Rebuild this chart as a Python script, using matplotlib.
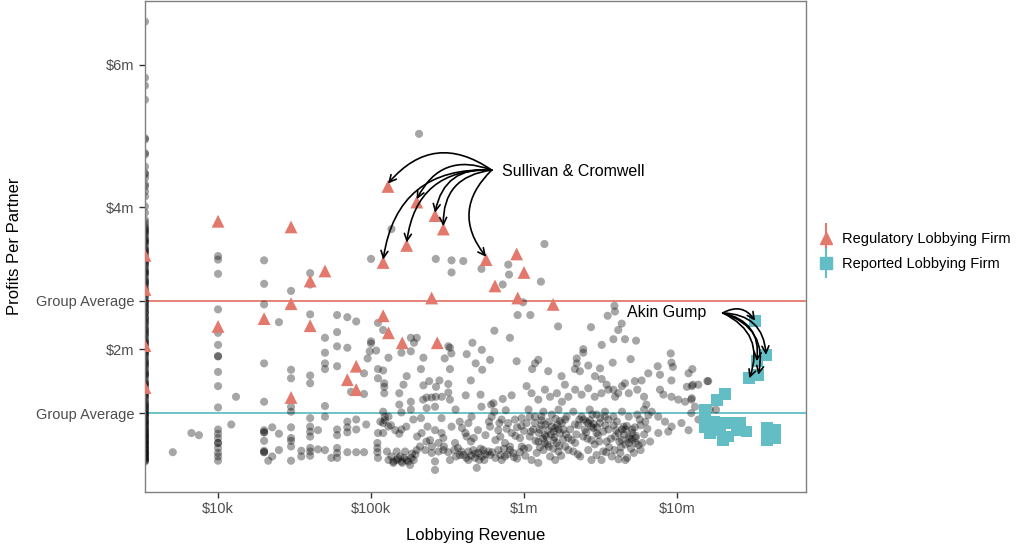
import numpy as np
import matplotlib.pyplot as plt
from matplotlib.lines import Line2D
from matplotlib.ticker import NullLocator

plt.rcParams['font.family'] = ['Liberation Sans', 'DejaVu Sans']

# revenue in $k (0 = no lobbying revenue), profits per partner in $m

# firms with zero lobbying revenue (drawn on the left edge)
zero_rev_ppp = [6.61, 5.82, 5.71, 5.51, 4.97, 4.95, 4.76, 4.74, 4.57, 4.48, 4.46, 4.41,
                4.32, 4.29, 4.22, 4.15, 4.01, 3.92, 3.82, 3.78, 3.74, 3.71, 3.67, 3.63,
                3.60, 3.56, 3.52, 3.49, 3.45, 3.41, 3.38, 3.34, 3.30, 3.27, 3.23, 3.19,
                3.16, 3.12, 3.08, 3.05, 3.01, 2.97, 2.94, 2.90, 2.86, 2.83, 2.79, 2.75,
                2.72, 2.68, 2.64, 2.61, 2.57, 2.53, 2.50, 2.46, 2.42, 2.39, 2.35, 2.31,
                2.28, 2.24, 2.20, 2.17, 2.13, 2.09, 2.06, 2.02, 1.98, 1.95, 1.91, 1.87,
                1.84, 1.80, 1.76, 1.73, 1.69, 1.65, 1.62, 1.58, 1.54, 1.51, 1.47, 1.43,
                1.40, 1.36, 1.32, 1.29, 1.25, 1.21, 1.18, 1.14, 1.10, 1.07, 1.03, 0.99,
                0.96, 0.92, 0.88, 0.85, 0.81, 0.77, 0.74, 0.70, 0.66, 0.63, 0.59, 0.55,
                0.52, 0.48, 0.44, 0.42, 0.50, 0.57, 0.65, 0.72, 0.80, 0.90, 1.00, 1.12,
                3.69, 3.54, 3.40, 3.25, 3.10, 2.96, 2.81, 2.66, 2.52, 2.37, 2.22, 2.08,
                1.93, 1.78, 1.64, 1.49, 1.34, 1.20, 1.05, 0.94, 0.83, 0.75, 0.68, 0.61,
                0.54, 0.46, 0.43, 0.47, 0.53, 0.60, 0.69, 0.78, 0.86, 0.97, 1.08, 1.16,
                1.24, 1.38, 1.52, 1.67, 1.82, 1.97, 2.12, 2.27, 2.44, 2.59, 2.77, 2.92,
                3.07, 3.21, 3.36, 3.51, 3.65]

gray_low = [(10, 3.31), (10, 3.26), (10, 3.06), (10, 2.56), (10, 2.23), (10, 2.06), (10, 1.90),
            (10, 1.90), (10, 1.68), (10, 1.48), (10, 1.18), (10, 0.87), (10, 0.81), (10, 0.75),
            (10, 0.68), (10, 0.68), (10, 0.61), (10, 0.54), (10, 0.49), (10, 0.43),
            (5.06, 0.55), (6.7, 0.82), (7.5, 0.79), (12.2, 0.94), (13.1, 1.33),
            (20, 3.25), (20, 2.92), (20, 2.63), (20, 1.80), (20, 1.26), (20, 0.86), (20, 0.83),
            (20, 0.83), (20, 0.71), (20, 0.57), (20, 0.55), (20, 0.55),
            (25, 2.38), (22.6, 0.90), (25, 0.81), (25, 0.58), (21.3, 0.43), (22.6, 0.49),
            (30, 2.82), (30, 1.71), (30, 1.59), (30, 1.19), (30, 1.12), (30, 0.90), (30, 0.75),
            (30, 0.71), (30, 0.63), (30, 0.43),
            (40, 3.07), (40, 2.91), (40, 2.49), (40, 1.63), (40, 1.52), (40, 1.03), (40, 0.91),
            (40, 0.84), (40, 0.77), (40, 0.61), (40, 0.56), (40, 0.50),
            (45, 0.86), (35, 0.57), (35, 0.49), (45, 0.59),
            (50, 2.16), (50, 1.95), (50, 1.80), (50, 1.72), (50, 1.20), (50, 1.05), (50, 0.58), (55, 0.47)]

gray_mid = [(100, 3.27), (265, 3.27), (336, 3.25), (401, 3.24), (336, 3.08), (527, 3.13), (789, 3.19),
            (798, 3.05), (726, 2.91), (986, 2.66), (908, 2.48), (640, 2.26), (809, 2.16), (895, 1.83),
            (60, 2.48), (70, 2.45), (80, 2.39), (60, 2.24), (60, 2.04), (70, 2.02), (60, 1.76),
            (90, 1.66), (74, 1.40), (90, 1.37),
            (111, 2.37), (120, 2.27), (100, 2.11), (100, 2.08), (98, 1.97), (108, 1.98), (95, 1.87),
            (130, 1.88), (111, 1.72), (120, 1.70), (111, 1.59), (122, 1.52), (122, 1.47), (122, 1.38),
            (153, 1.38), (158, 1.95), (182, 2.16), (199, 2.16), (191, 2.09), (182, 1.97), (171, 1.62),
            (163, 1.50), (212, 1.72), (220, 1.88), (182, 1.26), (220, 1.49), (240, 1.55), (266, 1.47),
            (280, 1.56), (328, 2.02), (320, 2.04), (335, 1.94), (460, 2.09), (530, 1.99), (303, 1.87),
            (422, 1.93), (328, 1.72), (483, 1.80), (600, 1.85), (533, 1.71), (320, 1.51), (320, 1.39),
            (231, 1.32), (249, 1.32), (265, 1.33), (290, 1.33), (219, 1.29), (328, 1.29), (416, 1.35),
            (449, 1.56), (520, 1.36), (631, 1.24), (726, 1.30), (830, 1.35), (527, 1.19), (610, 1.22),
            (357, 1.15), (153, 1.22), (158, 1.11), (182, 1.15), (231, 1.17), (262, 1.19), (120, 1.12),
            (123, 1.05), (123, 1.00), (130, 1.05), (189, 1.01), (289, 1.03),
            (60, 0.87), (60, 0.79), (70, 0.98), (70, 0.90), (70, 0.83), (80, 1.01), (80, 0.87),
            (93, 0.94), (60, 0.61), (60, 0.54), (60, 0.47), (70, 0.55), (80, 0.55), (90, 0.55),
            (110, 0.68), (110, 0.61), (110, 0.55), (111, 0.47), (111, 0.82), (120, 0.82), (144, 0.86),
            (153, 0.81), (158, 0.87), (120, 0.96), (130, 0.91),
            (127, 0.56), (136, 0.49), (147, 0.44), (158, 0.42), (171, 0.44), (184, 0.47), (199, 0.58),
            (209, 0.63), (147, 0.56), (167, 0.56), (180, 0.37), (130, 0.44), (140, 0.42), (155, 0.49),
            (262, 0.42), (262, 0.30), (226, 0.58), (249, 0.54), (276, 0.56), (297, 0.58), (320, 0.55),
            (328, 0.44), (276, 0.68), (297, 0.75), (243, 0.72), (214, 0.82),
            (212, 1.03), (234, 0.91), (262, 0.86), (289, 0.82), (336, 0.91), (393, 0.89), (433, 0.96),
            (454, 1.05), (500, 0.86), (354, 0.68), (414, 0.82), (380, 0.98), (422, 0.77),
            (401, 0.51), (433, 0.56), (466, 0.58), (503, 0.54), (542, 0.58), (433, 0.44), (479, 0.47),
            (530, 0.49), (585, 0.56), (491, 0.33),
            (615, 1.05), (714, 1.01), (789, 0.96), (873, 1.01), (966, 1.03), (831, 0.82), (942, 0.75),
            (679, 0.86), (751, 0.68), (809, 0.58), (714, 0.44), (809, 0.63), (966, 0.63),
            (115, 0.98), (135, 0.93), (170, 0.91), (200, 0.77), (230, 0.70), (250, 0.63), (300, 0.63),
            (350, 0.58), (370, 0.61), (390, 0.56), (360, 0.49), (380, 0.51), (550, 0.44), (600, 0.51),
            (650, 0.47), (700, 0.51), (750, 0.49), (850, 0.54), (900, 0.46), (650, 0.72), (700, 0.77),
            (560, 0.79), (450, 0.70), (470, 0.75), (600, 0.91), (900, 0.90),
            (136, 3.69), (206, 5.03)]

gray_high = [(1360, 3.48), (1290, 2.95), (1100, 2.48), (1670, 2.32), (2740, 2.31), (3520, 2.47),
             (3930, 2.53), (3900, 2.61), (4350, 2.36), (4130, 2.27), (3840, 2.14), (4570, 2.14),
             (5400, 2.12), (3220, 2.06), (2440, 2.00), (2440, 1.95), (2210, 1.87), (2210, 1.80),
             (3800, 1.81), (4980, 1.86), (1240, 1.85), (1180, 1.80), (1130, 1.72), (1440, 1.69),
             (1760, 1.62), (1850, 1.50), (2150, 1.72), (2320, 1.69), (2630, 1.77), (3140, 1.73),
             (2910, 1.62), (3220, 1.58), (3470, 1.50), (4570, 1.52), (5300, 1.55), (5870, 1.56),
             (3840, 1.43), (4130, 1.38), (6490, 1.66), (7480, 1.76), (7740, 1.64), (9100, 1.94),
             (9200, 1.81), (9400, 1.75), (9200, 1.56), (11900, 1.66), (12500, 1.48), (11600, 1.47),
             (13800, 1.50), (15800, 1.55), (7740, 1.43), (8150, 1.36), (9200, 1.33), (10200, 1.29),
             (11300, 1.26), (12500, 1.31), (6840, 1.12), (7550, 1.05), (8350, 0.98), (9220, 0.91),
             (10700, 0.96), (11900, 0.86), (13800, 1.01), (15600, 1.08), (13100, 1.19), (6670, 0.70),
             (7550, 0.82), (8770, 0.84), (12600, 1.72), (12700, 1.50), (16000, 1.55), (12400, 1.29),
             (14700, 1.15), (16400, 1.15), (18000, 1.15), (12400, 1.10)]

gray_dense = [(1040, 1.48), (1120, 1.38), (1240, 1.29), (1370, 1.43), (1480, 1.33), (1640, 1.38),
              (1770, 1.26), (1950, 1.33), (2160, 1.43), (2380, 1.36), (2630, 1.45), (2900, 1.33),
              (3210, 1.38), (3560, 1.43), (3940, 1.33), (4370, 1.48), (4840, 1.38), (5500, 1.43),
              (6090, 1.33),
              (1070, 1.15), (1180, 1.05), (1340, 1.12), (1520, 1.08), (1680, 1.15), (1900, 1.05),
              (2100, 1.12), (2380, 1.05), (2690, 1.15), (2980, 1.08), (3380, 1.12), (3840, 1.05),
              (4370, 1.12), (4840, 1.05), (5500, 1.08), (6090, 1.15),
              (1040, 0.96), (1150, 0.87), (1300, 0.93), (1450, 0.98), (1600, 0.89), (1770, 0.96),
              (2000, 0.87), (2270, 0.93), (2560, 0.98), (2830, 0.89), (3130, 0.96), (3560, 0.87),
              (4050, 0.98), (4480, 0.91), (5090, 0.87), (5780, 0.93),
              (1090, 0.77), (1240, 0.70), (1370, 0.79), (1560, 0.72), (1720, 0.82), (1950, 0.75),
              (2160, 0.68), (2440, 0.77), (2760, 0.72), (3050, 0.79), (3470, 0.70), (3940, 0.77),
              (4370, 0.72), (4840, 0.68), (5360, 0.75), (5930, 0.68),
              (1070, 0.61), (1210, 0.54), (1340, 0.58), (1480, 0.49), (1680, 0.56), (1860, 0.63),
              (2100, 0.56), (2330, 0.49), (2630, 0.58), (2980, 0.51), (3290, 0.56), (3750, 0.49),
              (4260, 0.54), (4720, 0.47), (5220, 0.54), (5780, 0.58),
              (1120, 0.44), (1240, 0.40), (1600, 0.44), (2760, 0.44), (3210, 0.44), (4150, 0.45),
              (4600, 0.44),
              (1520, 0.91), (1560, 0.84), (1680, 0.87), (2630, 0.96), (2760, 0.91), (4600, 0.87),
              (4840, 0.77), (5090, 0.72), (1370, 0.68), (1450, 0.63),
              (1180, 0.96), (1270, 0.87), (1400, 0.77), (1640, 0.68), (1810, 0.87), (1090, 1.05),
              (1300, 1.05), (1860, 1.01), (3380, 1.05), (4150, 0.82), (4370, 0.87), (5360, 0.68),
              (3560, 1.01), (2500, 0.87), (2980, 0.82)]

# darkest clusters of the cloud
gray_core = [(1300, 1.00), (1380, 0.94), (1430, 0.86), (1500, 0.80), (1580, 0.76), (1650, 0.93),
             (1720, 0.99), (1800, 0.73), (1880, 0.80), (1250, 0.82), (1330, 0.74), (1420, 0.66),
             (1550, 0.60), (1700, 0.64), (1270, 0.62), (1190, 0.71), (1110, 0.84), (1610, 1.02),
             (2550, 0.83), (2700, 1.00), (2850, 0.95), (3000, 0.90), (3150, 1.03), (3300, 0.84),
             (2600, 0.74), (2900, 0.66), (3100, 0.70), (3400, 0.93), (2450, 1.01), (2800, 1.08),
             (4000, 0.86), (4200, 0.70), (4500, 0.80), (4700, 0.92), (4900, 0.74), (5100, 0.82),
             (5400, 0.78), (5600, 0.65), (4300, 0.62), (4600, 0.66), (5000, 0.60), (5300, 0.90),
             (3700, 0.74), (3600, 0.62), (3850, 0.93), (2200, 0.80), (2050, 0.72), (2300, 1.01),
             (2150, 0.94), (1950, 0.58), (2250, 0.52), (1750, 0.50), (3450, 0.55), (3900, 0.58),
             (5700, 1.01), (6200, 0.98), (6400, 0.88), (6100, 0.80), (6500, 1.07), (6300, 1.22),
             (140, 0.40), (150, 0.46), (160, 0.40), (175, 0.42), (190, 0.44), (165, 0.47),
             (195, 0.52), (185, 0.53), (420, 0.47), (450, 0.50), (480, 0.53), (510, 0.44),
             (560, 0.52), (520, 0.60), (620, 0.55), (680, 0.58), (740, 0.60), (780, 0.52),
             (860, 0.48), (940, 0.55), (1000, 0.60), (1020, 0.50), (960, 0.92), (1000, 0.85),
             (880, 0.78), (770, 0.88), (690, 0.96), (590, 0.98), (640, 1.12), (760, 1.14)]

regulatory = [(0, 3.32), (0, 2.84), (0, 2.05), (0, 1.46),
              (10, 3.80), (10, 2.32), (20, 2.43), (30, 3.72), (30, 2.64), (30, 1.32), (40, 2.96),
              (40, 2.33), (50, 3.10), (895, 3.34), (1000, 3.08), (646, 2.89), (249, 2.72),
              (910, 2.72), (120, 2.47), (130, 2.23), (160, 2.09), (271, 2.09), (80, 1.76),
              (70, 1.57), (80, 1.43), (1550, 2.63)]
sullivan = [(129, 4.29), (199, 4.07), (262, 3.88), (297, 3.69), (171, 3.46), (120, 3.22), (565, 3.26)]

reported = [(20600, 1.37), (18200, 1.29), (15200, 1.03), (15200, 0.91), (16400, 0.96), (16400, 0.82),
            (19100, 0.86), (20100, 0.72), (19600, 0.96), (23300, 0.96), (24500, 0.86), (25800, 0.96),
            (28500, 0.84), (38600, 0.89), (43700, 0.86), (38600, 0.72), (43700, 0.75), (15200, 1.15),
            (17400, 0.98), (21600, 0.77)]
akin_gump = [(32400, 2.40), (38200, 1.92), (33200, 1.83), (29700, 1.59), (34000, 1.64)]

reg_avg = 2.68
rep_avg = 1.10

red = '#E3786D'
teal = '#62BEC4'
x_left, x_right = 3.33e3, 6.97e7


def xs(pts):
    r = np.array([p[0] for p in pts], dtype=float) * 1e3
    return np.where(r == 0, x_left, r)


def ys(pts):
    return np.array([p[1] for p in pts])


fig = plt.figure(figsize=(10.24, 5.48), dpi=100)
ax = fig.add_axes([0.1416, 0.1022, 0.6455, 0.896])
ax.set_xscale('log')
ax.set_xlim(x_left, x_right)
ax.set_ylim(-0.01, 6.9)

ax.axhline(reg_avg, color=red, lw=1.3, zorder=1)
ax.axhline(rep_avg, color=teal, lw=1.3, zorder=1)

gray_pts = [(0, v) for v in zero_rev_ppp] + gray_low + gray_mid + gray_high + gray_dense + gray_core
ax.scatter(xs(gray_pts), ys(gray_pts), s=34, c='black', alpha=0.35, edgecolors='none', zorder=2)

reg_pts = regulatory + sullivan
ax.scatter(xs(reg_pts), ys(reg_pts), marker='^', s=85, c=red, edgecolors='none', zorder=3)
rep_pts = reported + akin_gump
ax.scatter(xs(rep_pts), ys(rep_pts), marker='s', s=72, c=teal, edgecolors='none', zorder=3)

# annotations
ax.text(716e3, 4.50, 'Sullivan & Cromwell', fontsize=11.5, ha='left', va='center')
for r, p in sullivan:
    ax.annotate('', xy=(r * 1e3, p + 0.04), xytext=(615e3, 4.52),
                arrowprops=dict(arrowstyle='->,head_length=0.5,head_width=0.25', color='black',
                                lw=1.2, connectionstyle='arc3,rad=0.45', shrinkA=0, shrinkB=0),
                zorder=4)

ax.text(4.69e6, 2.51, 'Akin Gump', fontsize=11.5, ha='left', va='center')
for r, p in akin_gump:
    ax.annotate('', xy=(r * 1e3, p), xytext=(19.9e6, 2.51),
                arrowprops=dict(arrowstyle='->,head_length=0.5,head_width=0.25', color='black',
                                lw=1.2, connectionstyle='arc3,rad=-0.45', shrinkA=0, shrinkB=0),
                zorder=4)

ax.set_xticks([1e4, 1e5, 1e6, 1e7], ['\\$10k', '\\$100k', '\\$1m', '\\$10m'])
ax.xaxis.set_minor_locator(NullLocator())
ax.set_yticks([rep_avg, 2, reg_avg, 4, 6],
              ['Group Average', '\\$2m', 'Group Average', '\\$4m', '\\$6m'])
ax.tick_params(labelsize=10.5, labelcolor='#4d4d4d', color='#333333', length=4, width=1)
for s in ax.spines.values():
    s.set_color('#808080')
    s.set_linewidth(1.0)

ax.set_xlabel('Lobbying Revenue', fontsize=12, labelpad=8)
ax.set_ylabel('Profits Per Partner', fontsize=12, labelpad=10)

h_reg = (Line2D([], [], marker='|', markersize=22, mew=1.5, color=red, linestyle='None'),
         Line2D([], [], marker='^', markersize=9, color=red, linestyle='None'))
h_rep = (Line2D([], [], marker='|', markersize=22, mew=1.5, color=teal, linestyle='None'),
         Line2D([], [], marker='s', markersize=8, color=teal, linestyle='None'))
ax.legend([h_reg, h_rep], ['Regulatory Lobbying Firm', 'Reported Lobbying Firm'],
          loc='center left', bbox_to_anchor=(1.0, 0.49), frameon=False, fontsize=10.5,
          handlelength=1.0, handletextpad=0.6, labelspacing=0.75)

fig.savefig('out.png', dpi=100)
